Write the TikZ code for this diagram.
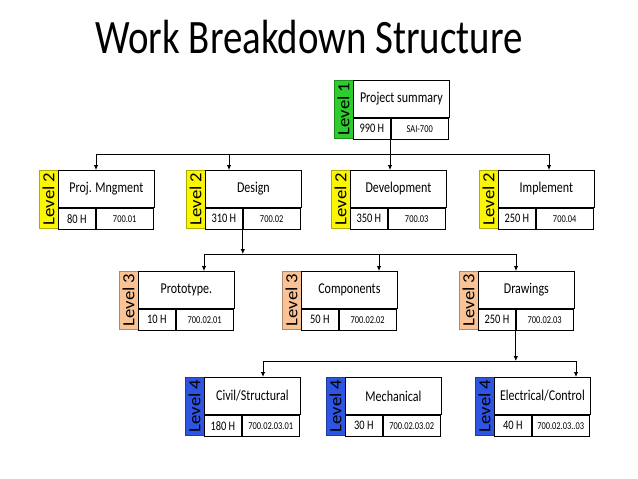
\documentclass[tikz,border=0pt]{standalone}
\usepackage{fontspec}
\setmainfont{Carlito}
\usepackage{graphicx}
\usetikzlibrary{arrows.meta,calc}
\definecolor{lvA}{RGB}{45,205,45}
\definecolor{lvB}{RGB}{250,245,0}
\definecolor{lvC}{RGB}{250,195,150}
\definecolor{lvD}{RGB}{45,85,225}
\newcommand\sq[1]{\scalebox{0.8}[1]{#1}}
\tikzset{
  titlebox/.style={draw, line width=0.8pt, minimum width=96pt, minimum height=37pt, inner sep=0pt, anchor=north west, font=\fontsize{15}{15}\selectfont},
  hoursbox/.style={draw, line width=0.8pt, minimum width=37pt, minimum height=21pt, inner sep=0pt, anchor=north west, font=\fontsize{13}{13}\selectfont},
  codebox/.style={draw, line width=0.8pt, minimum width=57pt, minimum height=21pt, inner sep=0pt, anchor=north west, font=\fontsize{10.5}{10.5}\selectfont},
  tagbox/.style={rotate=90, minimum width=58pt, minimum height=19pt, inner sep=0pt, line width=0.4pt, font=\fontsize{17}{17}\selectfont},
  bus/.style={line width=0.8pt},
  arr/.style={line width=0.8pt, -{Latex[length=5pt,width=4.5pt]}},
}
\newcommand\wbsbox[8]{%
  \node[tagbox, fill=#4, draw=#4!70!black] (#1t) at ({#2-9.5},{#3+29}) {\scalebox{1.1}[1]{Level #5}};
  \node[titlebox] (#1) at (#2,#3) {\sq{#6}};
  \node[hoursbox] (#1h) at (#1.south west) {\sq{#7}};
  \node[codebox] (#1c) at (#1h.north east) {\sq{#8}};
}
\begin{document}
\begin{tikzpicture}[x=1pt,y=-1pt]
\fill[white] (0,0) rectangle (638,479);
\useasboundingbox (0,0) rectangle (638,479);

\node[anchor=base, font=\fontsize{48}{48}\selectfont] (title) at (309,53) {\scalebox{0.81}[1]{Work Breakdown Structure}};

% Level 1
\wbsbox{ps}{353}{80}{lvA}{1}{Project summary}{990 H}{SAI-700}
% Level 2
\wbsbox{pm}{58}{170}{lvB}{2}{Proj. Mngment}{80 H}{700.01}
\wbsbox{des}{205}{170}{lvB}{2}{Design}{310 H}{700.02}
\wbsbox{dev}{350}{170}{lvB}{2}{Development}{350 H}{700.03}
\wbsbox{imp}{498}{170}{lvB}{2}{Implement}{250 H}{700.04}
% Level 3
\wbsbox{pro}{138}{271}{lvC}{3}{Prototype.}{10 H}{700.02.01}
\wbsbox{com}{301}{271}{lvC}{3}{Components}{50 H}{700.02.02}
\wbsbox{drw}{478}{271}{lvC}{3}{Drawings}{250 H}{700.02.03}
% Level 4
\wbsbox{civ}{204}{377}{lvD}{4}{Civil/Structural}{180 H}{700.02.03.01}
\wbsbox{mec}{345}{377}{lvD}{4}{Mechanical}{30 H}{700.02.03.02}
\wbsbox{ele}{494}{377}{lvD}{4}{Electrical/Control}{40 H}{700.02.03..03}

% Level 1 -> Level 2
\coordinate (b1) at (0,154);
\draw[bus] (psh.south east) -- (psh.south east |- b1);
\draw[bus] ([xshift=38pt]pm.north west |- b1) -- ([xshift=51pt]imp.north west |- b1);
\draw[arr] ([xshift=38pt]pm.north west |- b1) -- ([xshift=38pt]pm.north west);
\draw[arr] ([xshift=24pt]des.north west |- b1) -- ([xshift=24pt]des.north west);
\draw[arr] ([xshift=40pt]dev.north west |- b1) -- ([xshift=40pt]dev.north west);
\draw[arr] ([xshift=51pt]imp.north west |- b1) -- ([xshift=51pt]imp.north west);

% Level 2 -> Level 3
\coordinate (b2) at (0,254);
\draw[arr] (desh.south east) -- (desh.south east |- b2);
\draw[bus] ([xshift=66pt]pro.north west |- b2) -- ([xshift=38pt]drw.north west |- b2);
\draw[arr] ([xshift=66pt]pro.north west |- b2) -- ([xshift=66pt]pro.north west);
\draw[arr] ([xshift=78pt]com.north west |- b2) -- ([xshift=78pt]com.north west);
\draw[arr] ([xshift=38pt]drw.north west |- b2) -- ([xshift=38pt]drw.north west);

% Level 3 -> Level 4
\coordinate (b3) at (0,361);
\draw[arr] (drwh.south east) -- (drwh.south east |- b3);
\draw[bus] ([xshift=59pt]civ.north west |- b3) -- ([xshift=82pt]ele.north west |- b3);
\draw[arr] ([xshift=59pt]civ.north west |- b3) -- ([xshift=59pt]civ.north west);
\draw[arr] ([xshift=82pt]ele.north west |- b3) -- ([xshift=82pt]ele.north west);
\end{tikzpicture}
\end{document}
